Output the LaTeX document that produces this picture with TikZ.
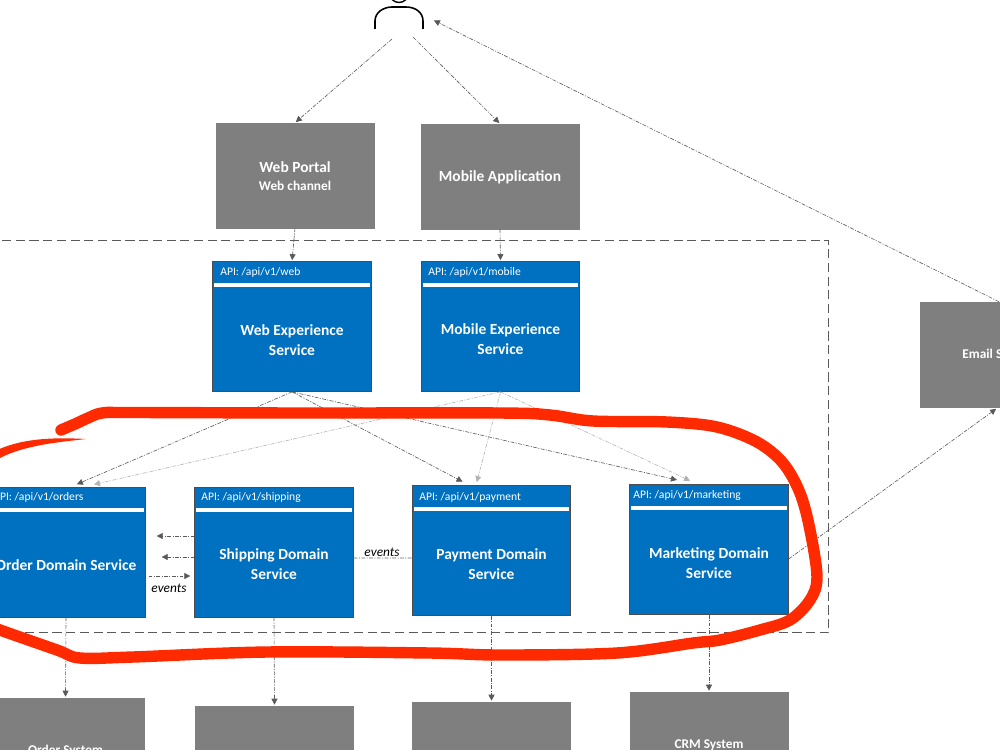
\documentclass[tikz,border=0pt]{standalone}
\usepackage{fontspec}
\setmainfont{Carlito}
\usetikzlibrary{arrows.meta,calc}
\definecolor{boxgray}{HTML}{7F7F7F}
\definecolor{boxblue}{HTML}{0070C0}
\definecolor{inkred}{HTML}{FF2A00}
\tikzset{
  channel/.style={shape=rectangle,fill=boxgray,draw=boxgray,line width=0.3pt,minimum width=3.16cm,minimum height=2.1cm,inner sep=0pt},
  service/.style={shape=rectangle,fill=boxblue,draw=black!70,line width=0.4pt,minimum width=3.17cm,minimum height=2.6cm,inner sep=0pt},
  svctitle/.style={text=white,align=center,inner sep=0pt,font=\fontsize{8.8}{11.3}\selectfont\bfseries},
  apitext/.style={text=white,anchor=west,inner sep=0pt,font=\fontsize{6.6}{7}\selectfont},
  apibar/.style={shape=rectangle,fill=white,minimum width=3.12cm,minimum height=0.08cm,inner sep=0pt},
  evttext/.style={inner sep=0pt,font=\fontsize{7.6}{8}\selectfont\itshape},
  flow/.style={-{Triangle[length=3.4pt,width=3.4pt]},black!65,line width=0.35pt,dash pattern=on 2.2pt off 0.8pt on 0.6pt off 0.8pt,shorten >=0.6pt},
  flowpale/.style={flow,black!30},
  flowplain/.style={black!60,line width=0.35pt,dash pattern=on 2.2pt off 0.8pt on 0.6pt off 0.8pt},
  frameline/.style={draw=black!65,line width=0.6pt,dash pattern=on 5.2pt off 2.6pt},
  inkline/.style={draw=inkred,line width=6.5pt,line cap=round,line join=round}
}
\begin{document}
\begin{tikzpicture}[x=0.02cm,y=-0.02cm]
    \useasboundingbox (0,0) rectangle (1000,750);
    \clip (0,0) rectangle (1000,750);
    % dashed boundary
    \node[frameline,shape=rectangle,minimum width=18.0cm,minimum height=7.86cm,inner sep=0pt] (platform) at (379,436.5) {};
    % user
    \node[shape=circle,draw=black,line width=0.8pt,minimum size=0.38cm,inner sep=0pt] (head) at (399,-7) {};
    \draw[black,line width=0.9pt] (375,29) -- (375,21) .. controls (375,12) and (384,7) .. (392,7) -- (406,7) .. controls (415,7) and (423,12) .. (423,21) -- (423,29);
    \coordinate (userL) at (392,39);
    \coordinate (userR) at (413,37);
    \coordinate (userE) at (433,20);
    % channels
    \node[channel] (webportal) at (295,175.5) {};
    \node[svctitle] (webname0) at (295,176.5) {Web Portal\\[-1pt]{\fontsize{7.6}{9}\selectfont Web channel}};
    \node[channel] (mobileapp) at (500,176.5) {};
    \node[svctitle] (mobname0) at (500,177) {Mobile Application};
    \node[channel] (emailsys) at (999,354.5) {};
    \node[svctitle,font=\fontsize{7.6}{9}\selectfont\bfseries] (emailname) at (999,355) {Email System};
    % experience services
    \node[service] (webexp) at (292,326.5) {};
    \node[apibar] (webbar) at (292,285) {};
    \node[apitext] (webapi) at (220,272.5) {API: /api/v1/web};
    \node[svctitle] (webname) at (292,340) {Web Experience\\Service};
    \node[service] (mobexp) at (500.5,326.5) {};
    \node[apibar] (mobbar) at (500.5,285) {};
    \node[apitext] (mobapi) at (428,272.5) {API: /api/v1/mobile};
    \node[svctitle] (mobname) at (500.5,339) {Mobile Experience\\Service};
    % domain services
    \node[service] (order) at (66,552) {};
    \node[apibar] (orderbar) at (66,510) {};
    \node[apitext] (orderapi) at (-7,497.5) {API: /api/v1/orders};
    \node[svctitle] (ordername) at (66,565) {Order Domain Service};
    \node[service] (shipping) at (274,552) {};
    \node[apibar] (shipbar) at (274,510) {};
    \node[apitext] (shipapi) at (201,497.5) {API: /api/v1/shipping};
    \node[svctitle] (shipname) at (274,564) {Shipping Domain\\Service};
    \node[service] (payment) at (491.5,550.5) {};
    \node[apibar] (paybar) at (491.5,509) {};
    \node[apitext] (payapi) at (419,497.5) {API: /api/v1/payment};
    \node[svctitle] (payname) at (491.5,564.5) {Payment Domain\\Service};
    \node[service] (marketing) at (709,549.5) {};
    \node[apibar] (markbar) at (709,508) {};
    \node[apitext] (markapi) at (633,495.5) {API: /api/v1/marketing};
    \node[svctitle] (markname) at (709,563) {Marketing Domain\\Service};
    % back ends
    \node[channel] (ordersys) at (65.5,750.5) {};
    \node[svctitle,font=\fontsize{7.6}{9}\selectfont\bfseries] (ordersysname) at (65.5,750.5) {Order System};
    \node[channel] (shipsys) at (274.5,758.5) {};
    \node[channel] (paysys) at (491.5,754.5) {};
    \node[channel] (crmsys) at (709,744.5) {};
    \node[svctitle,font=\fontsize{7.6}{9}\selectfont\bfseries] (crmname) at (709,745) {CRM System};
    % connectors
    \path [flow] (userL) edge (webportal.north);
    \path [flow] (userR) edge (mobileapp.north);
    \path [flow] (emailsys.north) edge (userE);
    \path [flow] (webportal.south) edge (webexp.north);
    \path [flow] (mobileapp.south) edge (mobexp.north);
    \path [flow] (webexp.south) edge ($(order.north)+(10,-2)$);
    \path [flow] (webexp.south) edge ($(payment.north)+(-28,-3)$);
    \path [flow] (webexp.south) edge ($(marketing.north)+(-31,-4)$);
    \path [flowpale] (mobexp.south) edge ($(order.north)+(27,-2)$);
    \path [flowpale] (mobexp.south) edge ($(payment.north)+(-15,-2)$);
    \path [flowpale] (mobexp.south) edge ($(marketing.north)+(-18,-3)$);
    \path [flow] ($(shipping.west)+(0,-16)$) edge ($(order.east)+(10,-16)$);
    \path [flow] ($(shipping.west)+(0,5)$) edge ($(order.east)+(15,5)$);
    \path [flow] ($(order.east)+(3,24)$) edge ($(shipping.west)+(-3,24)$);
    \path [flowplain] ($(shipping.east)+(0,6)$) edge ($(payment.west)+(0,7.5)$);
    \path [flow] (order.south) edge (ordersys.north);
    \path [flow] (shipping.south) edge (shipsys.north);
    \path [flow] (payment.south) edge (paysys.north);
    \path [flow] (marketing.south) edge (crmsys.north);
    \path [flow] ($(marketing.east)+(0,9.5)$) edge ($(emailsys.south)+(-2,1)$);
    \node[evttext] (evtleft) at (169,588) {events};
    \node[evttext] (evtright) at (382,552) {events};
    % red marker
    \fill[inkred] (-5,451) .. controls (20,439) and (50,437) .. (86,439) .. controls (60,442) and (25,445) .. (0,458) -- cycle;
    \draw[inkline] plot[smooth,tension=0.55] coordinates {(61,430) (75,424) (88,418) (102,413) (130,412.5) (300,413) (500,413) (550,415) (593,421) (667,422) (717,427) (757,442) (783,463) (800,493) (810,530) (817,577) (810,600) (790,620) (760,630) (720,640) (693,643) (617,653) (500,655) (430,653) (267,652) (133,657) (80,658) (57,650) (0,630) (-12,625)};
\end{tikzpicture}
\end{document}
